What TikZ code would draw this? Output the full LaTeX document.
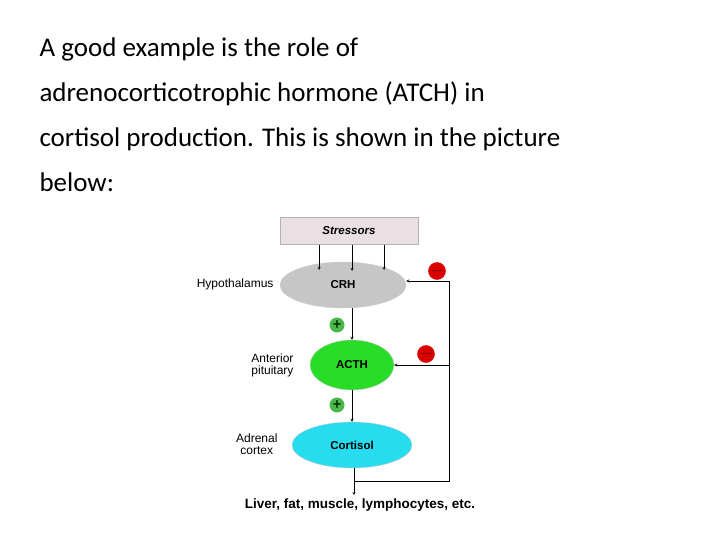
\documentclass[tikz,border=0pt]{standalone}
\usepackage{fontspec}
\setmainfont{Carlito}
\newfontfamily\diagfont{Liberation Sans}
\usetikzlibrary{arrows,positioning,shapes.geometric}

\begin{document}
\begin{tikzpicture}[x=1pt,y=-1pt,
                gland/.style={ellipse, draw=gray!40, inner sep=0pt, font=\diagfont\bfseries\fontsize{11.5}{12}\selectfont},
                organ/.style={font=\diagfont\fontsize{12}{12}\selectfont, align=center, anchor=east},
                sign/.style={circle, inner sep=0pt, minimum size=15pt, font=\bfseries\fontsize{16}{16}\selectfont},
                arrow/.style={->, >=stealth, thin}
            ]
            \useasboundingbox (0,0) rectangle (720,540);

            \node[anchor=north west, align=left, font=\fontsize{27}{45}\selectfont] (intro) at (36,34)
                {A good example is the role of\\adrenocorticotrophic hormone (ATCH) in\\cortisol production. This is shown in the picture\\below:};

            \node[draw=gray!60, fill={rgb,255:red,234;green,224;blue,228}, minimum width=138pt, minimum height=27pt,
                  font=\diagfont\bfseries\itshape\fontsize{11.5}{12}\selectfont] (stress) at (349,231) {Stressors};

            \node[gland, fill=gray!45, minimum width=126pt, minimum height=46pt] (crh) at (343,285) {CRH};
            \node[gland, fill={rgb,255:red,40;green,220;blue,40}, minimum width=84pt, minimum height=50pt] (acth) at (352,365) {ACTH};
            \node[gland, fill={rgb,255:red,40;green,220;blue,240}, minimum width=120pt, minimum height=46pt] (cort) at (352,445) {Cortisol};

            \node[organ] (hypo) at (277,284) {Hypothalamus};
            \node[organ] (pit) at (297,365) {Anterior\\pituitary};
            \node[organ] (adr) at (281,444) {Adrenal\\cortex};

            \node[font=\diagfont\bfseries\fontsize{13.5}{14}\selectfont] (targets) at (360,505) {Liver, fat, muscle, lymphocytes, etc.};

            \node[sign, fill=green!60!black!70, text=green!20!black] (plus1) at (337,325) {+};
            \node[sign, fill=green!60!black!70, text=green!20!black] (plus2) at (337,405) {+};
            \node[sign, fill=red!85!black, text=red!40!black] (minus1) at (437,271) {$-$};
            \node[sign, fill=red!85!black, text=red!40!black] (minus2) at (426,354) {$-$};

            \coordinate (s1) at (319,270);
            \coordinate (s2) at (352,271);
            \coordinate (s3) at (384,270);
            \coordinate (down) at (354,481);
            \coordinate (corner) at (449,481);
            \coordinate (top) at (449,281);
            \coordinate (mid) at (449,365);

            \draw[arrow] (stress.south -| s1) -- (s1);
            \draw[arrow] (stress.south -| s2) -- (s2);
            \draw[arrow] (stress.south -| s3) -- (s3);
            \draw[arrow] (crh.south -| acth) -- (acth.north);
            \draw[arrow] (acth.south) -- (cort.north);
            \draw[arrow] (cort.south -| down) -- (targets.north -| down);
            \draw (down) -- (corner) -- (top);
            \draw[arrow] (top) -- (crh.east |- top);
            \draw[arrow] (mid) -- (acth.east);

        \end{tikzpicture}
\end{document}
